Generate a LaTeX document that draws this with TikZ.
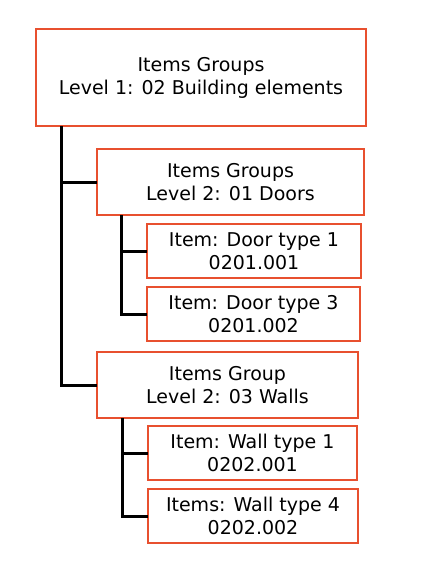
\documentclass[tikz,border=0pt]{standalone}
\usepackage{fontspec}
\setmainfont{DejaVu Sans}
\definecolor{boxred}{HTML}{E8502F}
\begin{document}
\begin{tikzpicture}[x=1pt,y=-1pt,
  box/.style={draw=boxred,line width=2.8pt,align=center,font=\fontsize{19}{23}\selectfont,inner sep=0pt},
  conn/.style={line width=3pt,line cap=rect}]
\useasboundingbox (0,0) rectangle (442,565);
\node[box,minimum width=330pt,minimum height=97pt] (b1) at (201,77.5) {Items Groups\\Level 1: 02 Building elements};
\node[box,minimum width=267pt,minimum height=66pt] (b2) at (230.5,182) {Items Groups\\Level 2: 01 Doors};
\node[box,minimum width=214pt,minimum height=54pt] (b3) at (254,251) {Item: Door type 1\\0201.001};
\node[box,minimum width=213pt,minimum height=54pt] (b4) at (253.5,314) {Item: Door type 3\\0201.002};
\node[box,minimum width=261pt,minimum height=66pt] (b5) at (227.5,385) {Items Group\\Level 2: 03 Walls};
\node[box,minimum width=209pt,minimum height=54pt] (b6) at (252.5,453) {Item: Wall type 1\\0202.001};
\node[box,minimum width=210pt,minimum height=54pt] (b7) at (253,516) {Items: Wall type 4\\0202.002};
\coordinate (c1) at ([xshift=27pt]b1.south west);
\coordinate (c2) at ([xshift=26pt]b2.south west);
\coordinate (c5) at ([xshift=27pt]b5.south west);
\draw[conn] (c1) |- (b2.west);
\draw[conn] (c1) |- (b5.west);
\draw[conn] (c2) |- (b3.west);
\draw[conn] (c2) |- (b4.west);
\draw[conn] (c5) |- (b6.west);
\draw[conn] (c5) |- (b7.west);
\end{tikzpicture}
\end{document}
